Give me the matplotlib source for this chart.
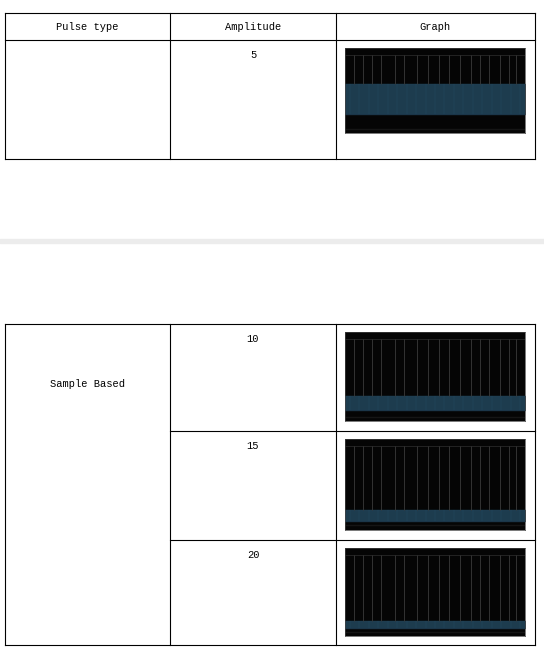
import matplotlib
matplotlib.use("Agg")
import matplotlib.pyplot as plt
from matplotlib.lines import Line2D
from matplotlib.patches import Rectangle
import numpy as np

headers = ["Pulse type", "Amplitude", "Graph"]
pulse_type = "Sample Based"
amplitudes = [5, 10, 15, 20]
# vertical position (fraction of graph height) of the noise band for each amplitude
band_low = [0.22, 0.12, 0.10, 0.09]
band_high = [0.58, 0.28, 0.22, 0.17]
pulse_edges = [0.05, 0.10, 0.15, 0.20, 0.28, 0.33, 0.40, 0.46, 0.52, 0.58, 0.64, 0.70, 0.75, 0.80, 0.86, 0.91, 0.95]

W, H = 544, 660
fig = plt.figure(figsize=(W/100, H/100), dpi=100)
fig.patch.set_facecolor("white")

def line(x0, y0, x1, y1, c="black", lw=0.8):
    fig.add_artist(Line2D([x0/W, x1/W], [1-y0/H, 1-y1/H], color=c, lw=lw))

def text(x, y, s):
    fig.text(x/W, 1-y/H, s, ha="center", va="center", fontsize=7.5, family="Liberation Mono")

# table 1
L, R, c1, c2 = 5, 535, 170, 336
for y in [13, 40, 159]:
    line(L, y, R, y)
for x in [L, c1, c2, R]:
    line(x, 13, x, 159)
for s, x in zip(headers, [(L+c1)/2, (c1+c2)/2, (c2+R)/2]):
    text(x, 27, s)

# separator
fig.add_artist(Rectangle((0, 1-243/H), 1, 4/H, color="#ececec", transform=fig.transFigure))

# table 2
T2, B2 = 324, 645
for y in [T2, B2]:
    line(L, y, R, y)
for y in [431, 540]:
    line(c1, y, R, y)
for x in [L, c1, c2, R]:
    line(x, T2, x, B2)
text((L+c1)/2, 384, pulse_type)

rows = [(40, 159), (324, 431), (431, 540), (540, 645)]
graphs = [(48, 133), (332, 421), (439, 530), (548, 636)]
for amp, (rt, rb), (gt, gb), lo, hi in zip(amplitudes, rows, graphs, band_low, band_high):
    text((c1+c2)/2, rt+15, str(amp))
    ax = fig.add_axes([345/W, 1-gb/H, 180/W, (gb-gt)/H])
    ax.set_facecolor("#050505")
    ax.set_xlim(0, 1); ax.set_ylim(0, 1)
    ax.set_xticks([]); ax.set_yticks([])
    for s in ax.spines.values():
        s.set_color("#444444"); s.set_linewidth(0.5)
    ax.fill_between([0, 1], lo, hi, color="#1d3a4c", alpha=0.9)
    xs = np.linspace(0, 1, 200)
    for i, xx in enumerate(xs):
        ax.plot([xx, xx], [lo, hi], color="#2b5873", lw=0.3, alpha=0.6)
    ax.hlines(0.92, 0.0, 1.0, color="#303030", lw=0.5)
    for e in pulse_edges:
        ax.vlines(e, hi, 0.92, color="#3a3a3a", lw=0.6)
    ax.hlines(0.05, 0, 1, color="#151515", lw=1)

fig.savefig("out.png", dpi=100, facecolor="white")
